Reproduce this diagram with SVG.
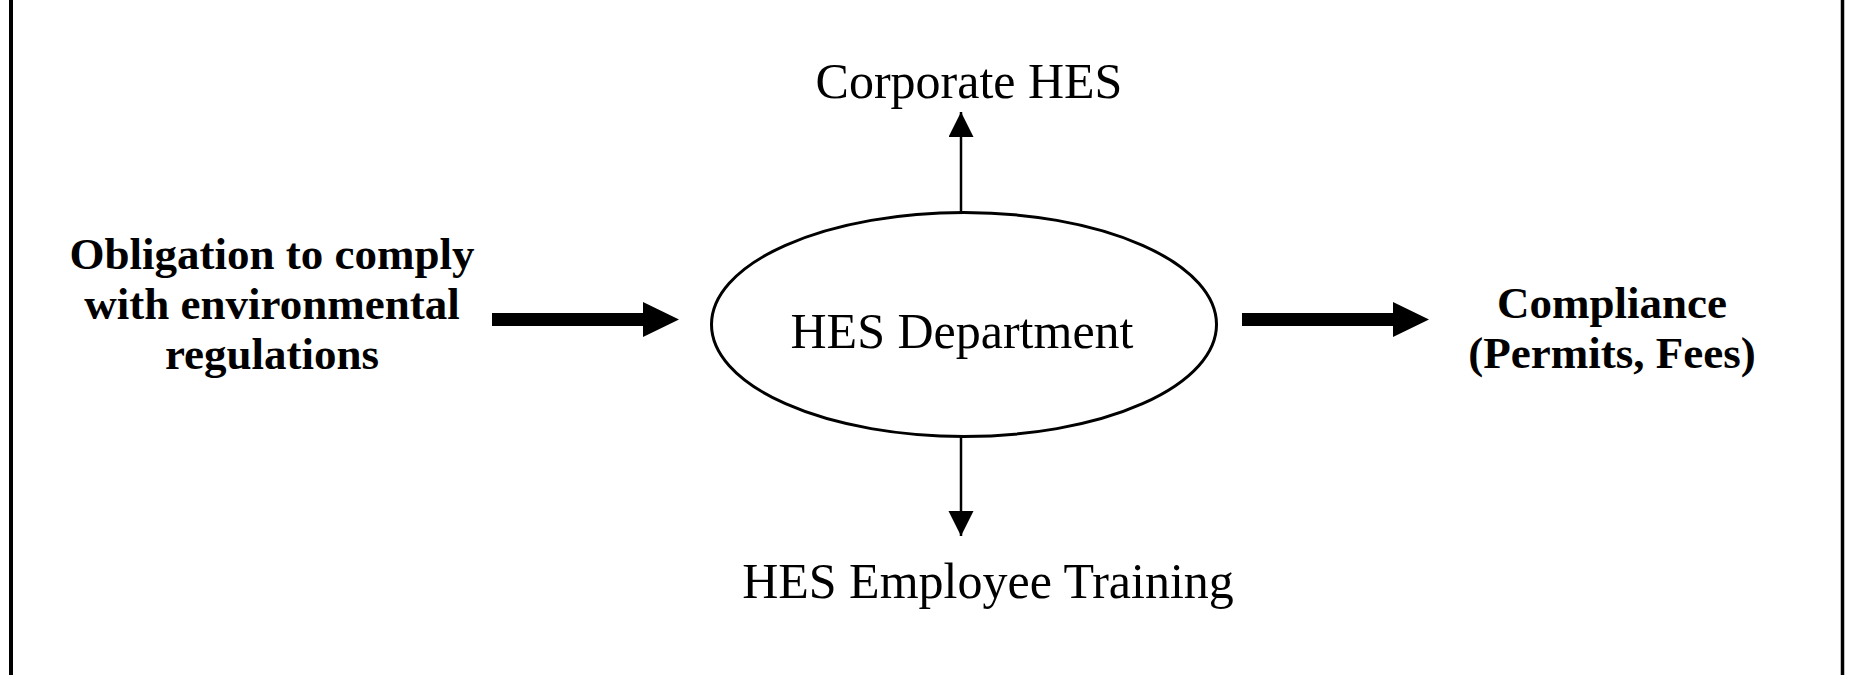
<svg xmlns="http://www.w3.org/2000/svg" width="1860" height="675" viewBox="0 0 1860 675">
  <style>
    .reg { font-family: "Liberation Serif", "Times New Roman", serif; font-size: 50px; fill: #000; text-anchor: middle; }
    .bold { font-family: "Liberation Serif", "Times New Roman", serif; font-size: 45px; font-weight: bold; fill: #000; text-anchor: middle; }
    .thin { stroke: #000; stroke-width: 2.5; fill: none; }
    .thick { fill: #000; stroke: none; }
  </style>
  <defs>
    <marker id="head" markerUnits="userSpaceOnUse" markerWidth="26" markerHeight="26" refX="25" refY="12.5" orient="auto" viewBox="0 0 26 26">
      <path d="M0,0 L25,12.5 L0,25 Z" fill="#000"/>
    </marker>
  </defs>
  <rect x="0" y="0" width="1860" height="675" fill="#fff"/>
  <g id="frame">
    <line x1="11" y1="0" x2="11" y2="675" stroke="#000" stroke-width="4"/>
    <line x1="1842.5" y1="0" x2="1842.5" y2="675" stroke="#000" stroke-width="3.5"/>
  </g>
  <g id="node-hes-department">
    <ellipse cx="964" cy="324.5" rx="252.5" ry="112" fill="#fff" stroke="#000" stroke-width="3"/>
    <text class="reg" x="962" y="348">HES Department</text>
  </g>
  <g id="node-corporate-hes">
    <text class="reg" x="969" y="98">Corporate HES</text>
  </g>
  <g id="node-training">
    <text class="reg" x="988" y="598">HES Employee Training</text>
  </g>
  <g id="node-obligation">
    <text class="bold" x="272" y="269">Obligation to comply</text>
    <text class="bold" x="272" y="319">with environmental</text>
    <text class="bold" x="272" y="369">regulations</text>
  </g>
  <g id="node-compliance">
    <text class="bold" x="1612" y="318">Compliance</text>
    <text class="bold" x="1612" y="368">(Permits, Fees)</text>
  </g>
  <g id="connectors">
    <line class="thin" x1="961" y1="212" x2="961" y2="112" marker-end="url(#head)"/>
    <line class="thin" x1="961" y1="437" x2="961" y2="536" marker-end="url(#head)"/>
    <path class="thick" d="M492,313 L643,313 L643,302 L679,319.5 L643,337 L643,326 L492,326 Z"/>
    <path class="thick" d="M1242,313 L1393,313 L1393,302 L1429,319.5 L1393,337 L1393,326 L1242,326 Z"/>
  </g>
</svg>
